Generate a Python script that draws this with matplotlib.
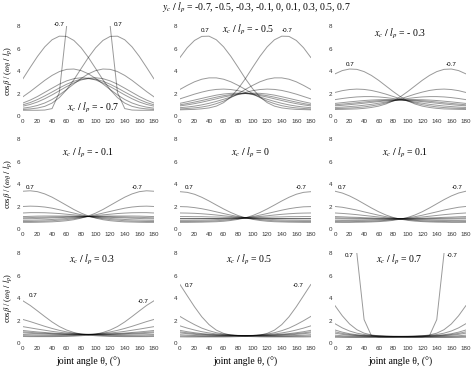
import matplotlib
matplotlib.use("Agg")
import matplotlib.pyplot as plt

# joint angle samples (deg)
THETA = [0, 10, 20, 30, 40, 50, 60, 70, 80, 90, 100, 110, 120, 130, 140, 150, 160, 170, 180]
Y_C = [-0.7, -0.5, -0.3, -0.1, 0, 0.1, 0.3, 0.5, 0.7]
X_C_TEXT = ["- 0.7", "- 0.5", "- 0.3", "- 0.1", "0", "0.1", "0.3", "0.5", "0.7"]

# one list per y_c (same order as Y_C)
XC_M07 = [
    [0.51, 0.51, 0.51, 0.53, 0.66, 2.09, 8.01, 19.0, 33.8, 50.5, 67.1, 82.0, 93.0, 99.0, 99.0, 93.0, 82.0, 67.1, 50.5],
    [0.59, 0.63, 0.71, 0.86, 1.15, 1.64, 2.34, 3.23, 4.23, 5.22, 6.09, 6.74, 7.10, 7.12, 6.80, 6.17, 5.32, 4.34, 3.33],
    [0.70, 0.79, 0.94, 1.16, 1.47, 1.88, 2.36, 2.86, 3.35, 3.76, 4.05, 4.19, 4.16, 3.96, 3.62, 3.18, 2.68, 2.18, 1.72],
    [0.88, 1.03, 1.25, 1.54, 1.88, 2.25, 2.62, 2.95, 3.21, 3.37, 3.41, 3.33, 3.13, 2.84, 2.48, 2.11, 1.74, 1.42, 1.16],
    [1.00, 1.20, 1.47, 1.79, 2.14, 2.50, 2.83, 3.10, 3.28, 3.33, 3.28, 3.10, 2.83, 2.50, 2.14, 1.79, 1.47, 1.20, 1.00],
    [1.16, 1.42, 1.74, 2.11, 2.48, 2.84, 3.13, 3.33, 3.41, 3.37, 3.21, 2.95, 2.62, 2.25, 1.88, 1.54, 1.25, 1.03, 0.88],
    [1.72, 2.18, 2.68, 3.18, 3.62, 3.96, 4.16, 4.19, 4.05, 3.76, 3.35, 2.86, 2.36, 1.88, 1.47, 1.16, 0.94, 0.79, 0.70],
    [3.33, 4.34, 5.32, 6.17, 6.80, 7.12, 7.10, 6.74, 6.09, 5.22, 4.23, 3.23, 2.34, 1.64, 1.15, 0.86, 0.71, 0.63, 0.59],
    [50.5, 67.1, 82.0, 93.0, 99.0, 99.0, 93.0, 82.0, 67.1, 50.5, 33.8, 19.0, 8.01, 2.09, 0.66, 0.53, 0.51, 0.51, 0.51],
]
XC_M05 = [
    [0.55, 0.57, 0.59, 0.64, 0.72, 0.88, 1.19, 1.70, 2.43, 3.33, 4.34, 5.32, 6.17, 6.80, 7.12, 7.10, 6.74, 6.09, 5.22],
    [0.63, 0.67, 0.72, 0.80, 0.92, 1.10, 1.33, 1.64, 1.99, 2.37, 2.73, 3.05, 3.28, 3.40, 3.40, 3.28, 3.05, 2.73, 2.37],
    [0.74, 0.80, 0.88, 0.99, 1.13, 1.30, 1.49, 1.70, 1.91, 2.10, 2.26, 2.36, 2.40, 2.37, 2.28, 2.13, 1.95, 1.74, 1.53],
    [0.90, 0.99, 1.10, 1.23, 1.38, 1.53, 1.69, 1.82, 1.94, 2.01, 2.04, 2.02, 1.96, 1.86, 1.72, 1.57, 1.42, 1.27, 1.13],
    [1.00, 1.11, 1.24, 1.38, 1.53, 1.68, 1.81, 1.91, 1.98, 2.00, 1.98, 1.91, 1.81, 1.68, 1.53, 1.38, 1.24, 1.11, 1.00],
    [1.13, 1.27, 1.42, 1.57, 1.72, 1.86, 1.96, 2.02, 2.04, 2.01, 1.94, 1.82, 1.69, 1.53, 1.38, 1.23, 1.10, 0.99, 0.90],
    [1.53, 1.74, 1.95, 2.13, 2.28, 2.37, 2.40, 2.36, 2.26, 2.10, 1.91, 1.70, 1.49, 1.30, 1.13, 0.99, 0.88, 0.80, 0.74],
    [2.37, 2.73, 3.05, 3.28, 3.40, 3.40, 3.28, 3.05, 2.73, 2.37, 1.99, 1.64, 1.33, 1.10, 0.92, 0.80, 0.72, 0.67, 0.63],
    [5.22, 6.09, 6.74, 7.10, 7.12, 6.80, 6.17, 5.32, 4.34, 3.33, 2.43, 1.70, 1.19, 0.88, 0.72, 0.64, 0.59, 0.57, 0.55],
]
XC_M03 = [
    [0.58, 0.59, 0.61, 0.63, 0.68, 0.76, 0.88, 1.07, 1.35, 1.72, 2.18, 2.68, 3.18, 3.62, 3.96, 4.16, 4.19, 4.05, 3.76],
    [0.66, 0.68, 0.71, 0.75, 0.81, 0.90, 1.01, 1.16, 1.33, 1.53, 1.74, 1.95, 2.13, 2.28, 2.37, 2.40, 2.36, 2.26, 2.10],
    [0.76, 0.79, 0.84, 0.89, 0.96, 1.04, 1.14, 1.24, 1.35, 1.46, 1.56, 1.64, 1.70, 1.73, 1.73, 1.70, 1.64, 1.56, 1.46],
    [0.91, 0.95, 1.01, 1.07, 1.14, 1.21, 1.28, 1.34, 1.39, 1.43, 1.46, 1.46, 1.45, 1.42, 1.38, 1.32, 1.26, 1.19, 1.12],
    [1.00, 1.06, 1.12, 1.18, 1.25, 1.31, 1.36, 1.40, 1.42, 1.43, 1.42, 1.40, 1.36, 1.31, 1.25, 1.18, 1.12, 1.06, 1.00],
    [1.12, 1.19, 1.26, 1.32, 1.38, 1.42, 1.45, 1.46, 1.46, 1.43, 1.39, 1.34, 1.28, 1.21, 1.14, 1.07, 1.01, 0.95, 0.91],
    [1.46, 1.56, 1.64, 1.70, 1.73, 1.73, 1.70, 1.64, 1.56, 1.46, 1.35, 1.24, 1.14, 1.04, 0.96, 0.89, 0.84, 0.79, 0.76],
    [2.10, 2.26, 2.36, 2.40, 2.37, 2.28, 2.13, 1.95, 1.74, 1.53, 1.33, 1.16, 1.01, 0.90, 0.81, 0.75, 0.71, 0.68, 0.66],
    [3.76, 4.05, 4.19, 4.16, 3.96, 3.62, 3.18, 2.68, 2.18, 1.72, 1.35, 1.07, 0.88, 0.76, 0.68, 0.63, 0.61, 0.59, 0.58],
]
XC_M01 = [
    [0.59, 0.59, 0.60, 0.62, 0.64, 0.68, 0.74, 0.83, 0.97, 1.16, 1.42, 1.74, 2.11, 2.48, 2.84, 3.13, 3.33, 3.41, 3.37],
    [0.67, 0.67, 0.69, 0.71, 0.74, 0.79, 0.84, 0.92, 1.01, 1.13, 1.27, 1.42, 1.57, 1.72, 1.86, 1.96, 2.02, 2.04, 2.01],
    [0.77, 0.78, 0.80, 0.82, 0.85, 0.89, 0.94, 0.99, 1.05, 1.12, 1.19, 1.26, 1.32, 1.38, 1.42, 1.45, 1.46, 1.46, 1.43],
    [0.91, 0.92, 0.94, 0.96, 0.99, 1.01, 1.04, 1.06, 1.09, 1.11, 1.13, 1.15, 1.16, 1.16, 1.16, 1.16, 1.15, 1.13, 1.11],
    [1.00, 1.02, 1.04, 1.05, 1.07, 1.08, 1.10, 1.10, 1.11, 1.11, 1.11, 1.10, 1.10, 1.08, 1.07, 1.05, 1.04, 1.02, 1.00],
    [1.11, 1.13, 1.15, 1.16, 1.16, 1.16, 1.16, 1.15, 1.13, 1.11, 1.09, 1.06, 1.04, 1.01, 0.99, 0.96, 0.94, 0.92, 0.91],
    [1.43, 1.46, 1.46, 1.45, 1.42, 1.38, 1.32, 1.26, 1.19, 1.12, 1.05, 0.99, 0.94, 0.89, 0.85, 0.82, 0.80, 0.78, 0.77],
    [2.01, 2.04, 2.02, 1.96, 1.86, 1.72, 1.57, 1.42, 1.27, 1.13, 1.01, 0.92, 0.84, 0.79, 0.74, 0.71, 0.69, 0.67, 0.67],
    [3.37, 3.41, 3.33, 3.13, 2.84, 2.48, 2.11, 1.74, 1.42, 1.16, 0.97, 0.83, 0.74, 0.68, 0.64, 0.62, 0.60, 0.59, 0.59],
]
XC_0 = [
    [0.59, 0.59, 0.60, 0.61, 0.63, 0.65, 0.69, 0.76, 0.86, 1.00, 1.20, 1.47, 1.79, 2.14, 2.50, 2.83, 3.10, 3.27, 3.33],
    [0.67, 0.67, 0.68, 0.69, 0.71, 0.74, 0.78, 0.84, 0.91, 1.00, 1.11, 1.24, 1.38, 1.53, 1.68, 1.81, 1.91, 1.98, 2.00],
    [0.77, 0.77, 0.78, 0.79, 0.81, 0.84, 0.87, 0.90, 0.95, 1.00, 1.06, 1.12, 1.18, 1.25, 1.31, 1.36, 1.40, 1.42, 1.43],
    [0.91, 0.91, 0.91, 0.92, 0.93, 0.94, 0.95, 0.97, 0.98, 1.00, 1.02, 1.04, 1.05, 1.07, 1.08, 1.10, 1.10, 1.11, 1.11],
    [1.00, 1.00, 1.00, 1.00, 1.00, 1.00, 1.00, 1.00, 1.00, 1.00, 1.00, 1.00, 1.00, 1.00, 1.00, 1.00, 1.00, 1.00, 1.00],
    [1.11, 1.11, 1.10, 1.10, 1.08, 1.07, 1.05, 1.04, 1.02, 1.00, 0.98, 0.97, 0.95, 0.94, 0.93, 0.92, 0.91, 0.91, 0.91],
    [1.43, 1.42, 1.40, 1.36, 1.31, 1.25, 1.18, 1.12, 1.06, 1.00, 0.95, 0.90, 0.87, 0.84, 0.81, 0.79, 0.78, 0.77, 0.77],
    [2.00, 1.98, 1.91, 1.81, 1.68, 1.53, 1.38, 1.24, 1.11, 1.00, 0.91, 0.84, 0.78, 0.74, 0.71, 0.69, 0.68, 0.67, 0.67],
    [3.33, 3.27, 3.10, 2.83, 2.50, 2.14, 1.79, 1.47, 1.20, 1.00, 0.86, 0.76, 0.69, 0.65, 0.63, 0.61, 0.60, 0.59, 0.59],
]
XC_P01 = [
    [0.59, 0.59, 0.59, 0.60, 0.61, 0.63, 0.66, 0.70, 0.77, 0.88, 1.03, 1.25, 1.54, 1.88, 2.25, 2.62, 2.95, 3.21, 3.37],
    [0.67, 0.66, 0.66, 0.67, 0.68, 0.70, 0.73, 0.77, 0.83, 0.90, 0.99, 1.10, 1.23, 1.38, 1.53, 1.69, 1.82, 1.94, 2.01],
    [0.77, 0.76, 0.76, 0.76, 0.77, 0.79, 0.81, 0.83, 0.86, 0.91, 0.95, 1.01, 1.07, 1.14, 1.21, 1.28, 1.34, 1.39, 1.43],
    [0.91, 0.90, 0.89, 0.88, 0.88, 0.88, 0.88, 0.89, 0.90, 0.91, 0.92, 0.94, 0.96, 0.99, 1.01, 1.04, 1.06, 1.09, 1.11],
    [1.00, 0.98, 0.97, 0.95, 0.94, 0.93, 0.92, 0.91, 0.91, 0.91, 0.91, 0.91, 0.92, 0.93, 0.94, 0.95, 0.97, 0.98, 1.00],
    [1.11, 1.09, 1.06, 1.04, 1.01, 0.99, 0.96, 0.94, 0.92, 0.91, 0.90, 0.89, 0.88, 0.88, 0.88, 0.88, 0.89, 0.90, 0.91],
    [1.43, 1.39, 1.34, 1.28, 1.21, 1.14, 1.07, 1.01, 0.95, 0.91, 0.86, 0.83, 0.81, 0.79, 0.77, 0.76, 0.76, 0.76, 0.77],
    [2.01, 1.94, 1.82, 1.69, 1.53, 1.38, 1.23, 1.10, 0.99, 0.90, 0.83, 0.77, 0.73, 0.70, 0.68, 0.67, 0.66, 0.66, 0.67],
    [3.37, 3.21, 2.95, 2.62, 2.25, 1.88, 1.54, 1.25, 1.03, 0.88, 0.77, 0.70, 0.66, 0.63, 0.61, 0.60, 0.59, 0.59, 0.59],
]
XC_P03 = [
    [0.58, 0.57, 0.57, 0.57, 0.57, 0.58, 0.59, 0.61, 0.65, 0.70, 0.79, 0.94, 1.16, 1.47, 1.88, 2.36, 2.86, 3.35, 3.76],
    [0.66, 0.64, 0.63, 0.63, 0.63, 0.64, 0.65, 0.67, 0.70, 0.74, 0.80, 0.88, 0.99, 1.13, 1.30, 1.49, 1.70, 1.91, 2.10],
    [0.76, 0.74, 0.72, 0.71, 0.70, 0.70, 0.71, 0.72, 0.74, 0.76, 0.79, 0.84, 0.89, 0.96, 1.04, 1.14, 1.24, 1.35, 1.46],
    [0.91, 0.86, 0.83, 0.81, 0.79, 0.77, 0.76, 0.76, 0.76, 0.77, 0.78, 0.80, 0.82, 0.85, 0.89, 0.94, 0.99, 1.05, 1.12],
    [1.00, 0.95, 0.90, 0.87, 0.83, 0.81, 0.79, 0.78, 0.77, 0.77, 0.77, 0.78, 0.79, 0.81, 0.83, 0.87, 0.90, 0.95, 1.00],
    [1.12, 1.05, 0.99, 0.94, 0.89, 0.85, 0.82, 0.80, 0.78, 0.77, 0.76, 0.76, 0.76, 0.77, 0.79, 0.81, 0.83, 0.86, 0.91],
    [1.46, 1.35, 1.24, 1.14, 1.04, 0.96, 0.89, 0.84, 0.79, 0.76, 0.74, 0.72, 0.71, 0.70, 0.70, 0.71, 0.72, 0.74, 0.76],
    [2.10, 1.91, 1.70, 1.49, 1.30, 1.13, 0.99, 0.88, 0.80, 0.74, 0.70, 0.67, 0.65, 0.64, 0.63, 0.63, 0.63, 0.64, 0.66],
    [3.76, 3.35, 2.86, 2.36, 1.88, 1.47, 1.16, 0.94, 0.79, 0.70, 0.65, 0.61, 0.59, 0.58, 0.57, 0.57, 0.57, 0.57, 0.58],
]
XC_P05 = [
    [0.55, 0.54, 0.54, 0.54, 0.54, 0.54, 0.54, 0.55, 0.57, 0.59, 0.63, 0.71, 0.86, 1.15, 1.64, 2.34, 3.23, 4.22, 5.22],
    [0.63, 0.61, 0.60, 0.59, 0.59, 0.59, 0.59, 0.60, 0.61, 0.63, 0.67, 0.72, 0.80, 0.92, 1.10, 1.33, 1.64, 1.99, 2.37],
    [0.74, 0.70, 0.67, 0.65, 0.64, 0.63, 0.63, 0.63, 0.64, 0.66, 0.68, 0.71, 0.75, 0.81, 0.90, 1.01, 1.16, 1.33, 1.53],
    [0.90, 0.83, 0.77, 0.73, 0.70, 0.68, 0.67, 0.66, 0.66, 0.67, 0.67, 0.69, 0.71, 0.74, 0.79, 0.84, 0.92, 1.01, 1.13],
    [1.00, 0.91, 0.84, 0.78, 0.74, 0.71, 0.69, 0.68, 0.67, 0.67, 0.67, 0.68, 0.69, 0.71, 0.74, 0.78, 0.84, 0.91, 1.00],
    [1.13, 1.01, 0.92, 0.84, 0.79, 0.74, 0.71, 0.69, 0.67, 0.67, 0.66, 0.66, 0.67, 0.68, 0.70, 0.73, 0.77, 0.83, 0.90],
    [1.53, 1.33, 1.16, 1.01, 0.90, 0.81, 0.75, 0.71, 0.68, 0.66, 0.64, 0.63, 0.63, 0.63, 0.64, 0.65, 0.67, 0.70, 0.74],
    [2.37, 1.99, 1.64, 1.33, 1.10, 0.92, 0.80, 0.72, 0.67, 0.63, 0.61, 0.60, 0.59, 0.59, 0.59, 0.59, 0.60, 0.61, 0.63],
    [5.22, 4.22, 3.23, 2.34, 1.64, 1.15, 0.86, 0.71, 0.63, 0.59, 0.57, 0.55, 0.54, 0.54, 0.54, 0.54, 0.54, 0.54, 0.55],
]
XC_P07 = [
    [0.51, 0.50, 0.50, 0.50, 0.50, 0.50, 0.50, 0.50, 0.50, 0.51, 0.51, 0.51, 0.53, 0.66, 2.09, 8.02, 19.0, 33.8, 50.5],
    [0.59, 0.57, 0.55, 0.54, 0.54, 0.54, 0.54, 0.54, 0.54, 0.55, 0.57, 0.59, 0.64, 0.72, 0.88, 1.19, 1.70, 2.43, 3.33],
    [0.70, 0.65, 0.61, 0.59, 0.58, 0.57, 0.57, 0.57, 0.57, 0.58, 0.59, 0.61, 0.63, 0.68, 0.76, 0.88, 1.07, 1.35, 1.72],
    [0.88, 0.77, 0.70, 0.66, 0.63, 0.61, 0.60, 0.59, 0.59, 0.59, 0.59, 0.60, 0.62, 0.64, 0.68, 0.74, 0.83, 0.97, 1.16],
    [1.00, 0.86, 0.76, 0.69, 0.65, 0.62, 0.61, 0.60, 0.59, 0.59, 0.59, 0.60, 0.61, 0.62, 0.65, 0.69, 0.76, 0.86, 1.00],
    [1.16, 0.97, 0.83, 0.74, 0.68, 0.64, 0.62, 0.60, 0.59, 0.59, 0.59, 0.59, 0.60, 0.61, 0.63, 0.66, 0.70, 0.77, 0.88],
    [1.72, 1.35, 1.07, 0.88, 0.76, 0.68, 0.63, 0.61, 0.59, 0.58, 0.57, 0.57, 0.57, 0.57, 0.58, 0.59, 0.61, 0.65, 0.70],
    [3.33, 2.43, 1.70, 1.19, 0.88, 0.72, 0.64, 0.59, 0.57, 0.55, 0.54, 0.54, 0.54, 0.54, 0.54, 0.54, 0.55, 0.57, 0.59],
    [50.5, 33.8, 19.0, 8.02, 2.09, 0.66, 0.53, 0.51, 0.51, 0.51, 0.50, 0.50, 0.50, 0.50, 0.50, 0.50, 0.50, 0.50, 0.51],
]

PANELS = [XC_M07, XC_M05, XC_M03, XC_M01, XC_0, XC_P01, XC_P03, XC_P05, XC_P07]

# where the panel title and the "0.7" / "-0.7" tags sit, in data coords
TITLE_AT = [(97, 0.75), (93, 7.7), (90, 7.3), (90, 6.8), (97, 6.8), (97, 6.8), (95, 7.4), (95, 7.4), (88, 7.4)]
TAGS_AT = [
    [("-0.7", 50, 8.15), ("0.7", 131, 8.15)],
    [("0.7", 35, 7.6), ("-0.7", 148, 7.6)],
    [("0.7", 21, 4.6), ("-0.7", 160, 4.6)],
    [("0.7", 10, 3.7), ("-0.7", 157, 3.7)],
    [("0.7", 12, 3.7), ("-0.7", 167, 3.7)],
    [("0.7", 10, 3.7), ("-0.7", 168, 3.7)],
    [("0.7", 14, 4.2), ("-0.7", 165, 3.7)],
    [("0.7", 12, 5.1), ("-0.7", 162, 5.1)],
    [("0.7", 20, 7.8), ("-0.7", 161, 7.8)],
]

plt.rcParams["mathtext.fontset"] = "stix"
serif = "Liberation Serif"
sans = "Liberation Sans"

fig = plt.figure(figsize=(4.74, 3.66), dpi=100)
lefts = [0.0485, 0.3797, 0.7068]
bottoms = [0.6831, 0.3743, 0.0628]

for i, curves in enumerate(PANELS):
    r, c = divmod(i, 3)
    ax = fig.add_axes([lefts[c], bottoms[r], 0.276, 0.245])
    for vals in curves:
        ax.plot(THETA, vals, color="k", alpha=0.4, lw=0.7)
    ax.set_xlim(0, 180)
    ax.set_ylim(0, 8)
    ax.set_xticks(range(0, 181, 20))
    ax.set_yticks(range(0, 9, 2))
    for s in ax.spines.values():
        s.set_visible(False)
    ax.tick_params(length=0, labelsize=4.5, labelcolor="#333333", pad=2)
    for lab in ax.get_xticklabels() + ax.get_yticklabels():
        lab.set_family(sans)

    tx, ty = TITLE_AT[i]
    ax.text(tx, ty, r"$x_c\ /\ l_p$ = " + X_C_TEXT[i], family=serif, fontsize=7,
            ha="center", va="center")
    for txt, px, py in TAGS_AT[i]:
        ax.text(px, py, txt, family=sans, fontsize=4.5, ha="center", va="center")

    if c == 0:
        ax.text(-0.115, 0.5, r"cos$\beta$ / ($\omega_\theta\ /\ l_p$)", family=serif,
                fontsize=6, rotation=90, ha="center", va="center", transform=ax.transAxes)
    if r == 2:
        ax.text(0.5, -0.215, "joint angle θ, (°)", family=serif, fontsize=7,
                ha="center", va="center", transform=ax.transAxes)

fig.text(0.54, 0.978, r"$y_c\ /\ l_p$ = -0.7, -0.5, -0.3, -0.1, 0, 0.1, 0.3, 0.5, 0.7",
         family=serif, fontsize=7, ha="center", va="center")

fig.savefig("out.png", dpi=100)
